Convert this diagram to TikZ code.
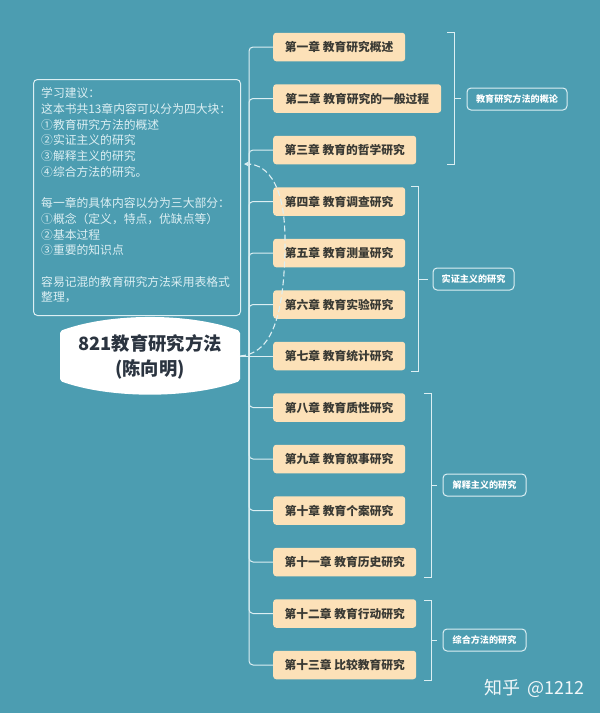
\documentclass[tikz,border=0pt]{standalone}
\usepackage{fontspec}
\usetikzlibrary{arrows.meta}
\setmainfont{Noto Sans CJK SC}
\definecolor{bgteal}{HTML}{4C9DB1}
\definecolor{chapfill}{HTML}{FCE1B8}
\definecolor{linecol}{HTML}{DCEFF3}
\definecolor{chaptext}{HTML}{3A3A34}
\definecolor{roottext}{HTML}{2B3440}
\tikzset{
  chapbox/.style={fill=chapfill,rounded corners=3pt,minimum height=28.5pt,inner sep=0pt,text=chaptext,font=\fontsize{11.75}{13}\selectfont\bfseries,anchor=west},
  groupbox/.style={draw=linecol,line width=1pt,rounded corners=4pt,text=white,font=\fontsize{9.1}{10}\selectfont\bfseries,minimum height=22pt,inner sep=0pt},
  trunkline/.style={draw=linecol,line width=1pt,rounded corners=4pt},
  bracketline/.style={draw=linecol,line width=1pt},
}
\begin{document}
\begin{tikzpicture}[x=1pt,y=-1pt]
\fill[bgteal] (0,0) rectangle (600,713);
\useasboundingbox (0,0) rectangle (600,713);
% chapters
\foreach \nm/\yy/\ww/\tx in {
 c1/47/132/第一章 教育研究概述,
 c2/98.5/168/第二章 教育研究的一般过程,
 c3/150/143/第三章 教育的哲学研究,
 c4/201.5/132/第四章 教育调查研究,
 c5/253/132/第五章 教育测量研究,
 c6/304.5/132/第六章 教育实验研究,
 c7/356/132/第七章 教育统计研究,
 c8/407.5/132/第八章 教育质性研究,
 c9/459/132/第九章 教育叙事研究,
 c10/510.5/132/第十章 教育个案研究,
 c11/562/143/第十一章 教育历史研究,
 c12/613.5/143/第十二章 教育行动研究,
 c13/665/143/第十三章 比较教育研究}{
 \node[chapbox,minimum width=\ww pt] (\nm) at (273,\yy) {\raisebox{-0.5pt}{\tx}};
}
% root
\fill[white,rounded corners=2pt] (60,331) .. controls (110,312.5) and (190,312.5) .. (240,331) -- (240,381) .. controls (190,399) and (110,399) .. (60,381) -- cycle;
\node[align=center,text=roottext,font=\fontsize{18.3}{25}\selectfont\bfseries,inner sep=0pt] (root) at (150,357) {821教育研究方法\\(陈向明)};
\coordinate (rootR) at (240,356);
% trunk
\coordinate (tk) at (249,356);
\draw[trunkline] (rootR) -- (c7.west);
\foreach \nm in {c1,c2,c3,c4,c5,c6,c8,c9,c10,c11,c12,c13}{
  \draw[trunkline] (tk) |- (\nm.west);
}
% notes
\node[draw=linecol,line width=1pt,rounded corners=4pt,minimum width=207pt,minimum height=236pt,anchor=north west,inner sep=0pt] (notes) at (33,79) {};
\node[anchor=north west,text=linecol,align=left,inner sep=0pt,font=\fontsize{11.8}{15.7}\selectfont] (notetext) at (41,87.5) {学习建议：\\这本书共13章内容可以分为四大块：\\①教育研究方法的概述\\②实证主义的研究\\③解释主义的研究\\④综合方法的研究。\\[15.7pt]每一章的具体内容以分为三大部分：\\①概念（定义，特点，优缺点等）\\②基本过程\\③重要的知识点\\[15.7pt]容易记混的教育研究方法采用表格式\\整理，};
% dashed link
\coordinate (arrowend) at (244,164);
\draw[linecol,line width=1.1pt,dash pattern=on 6pt off 3pt,-{Stealth[length=5pt,width=5pt]}] (rootR) .. controls (268,354) and (285,325) .. (285,240) .. controls (285,190) and (270,164) .. (arrowend);
% brackets
\node[groupbox,minimum width=100pt] (g1) at (517,99) {教育研究方法的概论};
\draw[bracketline] (447,32.5) -- (454,32.5) -- (454,164.5) -- (447,164.5);
\coordinate (b1) at (454,98.5); \coordinate (s1) at (461,98.5);
\draw[bracketline] (b1) -- (s1);
\node[groupbox,minimum width=81pt] (g2) at (473.5,279) {实证主义的研究};
\draw[bracketline] (411,186.5) -- (418,186.5) -- (418,371.5) -- (411,371.5);
\coordinate (b2) at (418,279); \coordinate (s2) at (428,279);
\draw[bracketline] (b2) -- (s2);
\node[groupbox,minimum width=83pt] (g3) at (484.5,485) {解释主义的研究};
\draw[bracketline] (424,393.5) -- (431,393.5) -- (431,577.5) -- (424,577.5);
\coordinate (b3) at (431,485); \coordinate (s3) at (437,485);
\draw[bracketline] (b3) -- (s3);
\node[groupbox,minimum width=83pt] (g4) at (484.5,640) {综合方法的研究};
\draw[bracketline] (424,600) -- (431,600) -- (431,680) -- (424,680);
\coordinate (b4) at (431,640); \coordinate (s4) at (437,640);
\draw[bracketline] (b4) -- (s4);
% watermark
\node[anchor=west,text=white!92!bgteal,inner sep=0pt,font=\fontsize{18}{20}\selectfont] (wm) at (484,688) {知乎 \,@1212};
\end{tikzpicture}
\end{document}
